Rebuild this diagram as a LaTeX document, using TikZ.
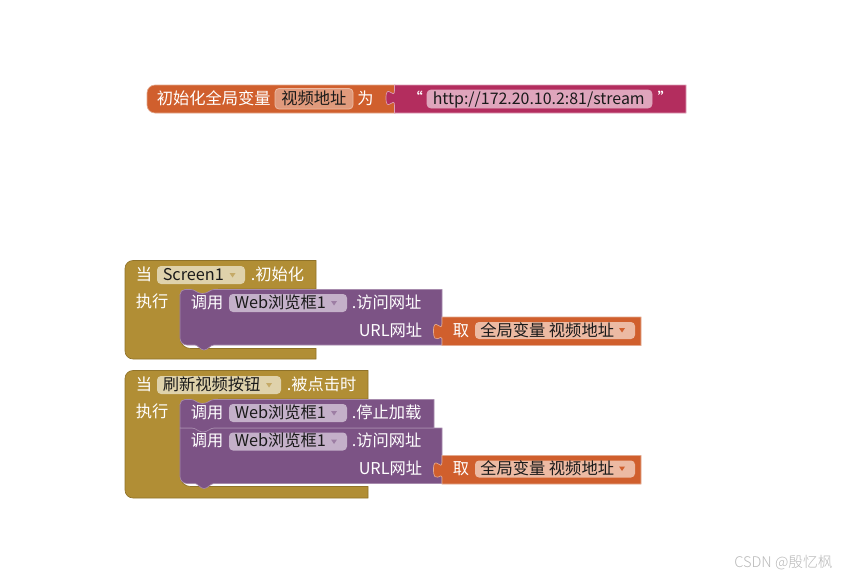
\documentclass[tikz,border=0pt]{standalone}
\usepackage{fontspec}
\setmainfont{Noto Sans CJK SC}
\newfontfamily\wmfont{Noto Sans CJK SC Light}
\definecolor{orA}{HTML}{D05F2D}\definecolor{orE}{HTML}{E3A98F}
\definecolor{piA}{HTML}{B32D5E}\definecolor{piE}{HTML}{DDA0B6}
\definecolor{puA}{HTML}{7C5385}\definecolor{puE}{HTML}{B9A3BE}
\definecolor{goA}{HTML}{B18E35}\definecolor{goE}{HTML}{8F7229}
\definecolor{orF}{HTML}{E09A7C}\definecolor{orG}{HTML}{ECBAA3}
\definecolor{piF}{HTML}{DFA5BC}\definecolor{puF}{HTML}{C4B0C9}
\definecolor{goF}{HTML}{DFD2AB}\definecolor{ink}{HTML}{1A1A1A}
\tikzset{x=0.75pt,y=-0.75pt,
  lab/.style={anchor=base west,inner sep=0pt,text=white,font=\fontsize{12.2}{14}\selectfont},
  val/.style={anchor=base west,inner sep=0pt,text=ink,font=\fontsize{12.2}{14}\selectfont},
  fld/.style={rounded corners=3pt,line width=0.6pt},
  orb/.style={fill=orA,draw=orE,line width=0.5pt},
  pib/.style={fill=piA,draw=piE,line width=0.5pt},
  pub/.style={fill=puA,draw=puE!70!puA,line width=0.5pt},
  gob/.style={fill=goA,draw=goE,line width=0.5pt},
  wm/.style={anchor=base west,inner sep=0pt,text=black!28,font=\wmfont\fontsize{11}{13}\selectfont}}
% statement block with notch on top and tab below: x0,x1,y0,y1,style
\newcommand{\stmt}[5]{%
  \path[#5] (#1+5,#3) -- (191,#3) .. controls (195,#3) and (197,#3+4) .. (202.5,#3+4) .. controls (208,#3+4) and (210,#3) .. (214,#3) -- (#2,#3) -- (#2,#4)
   -- (214,#4) .. controls (210,#4) and (208,#4+5) .. (204,#4+5) .. controls (200,#4+5) and (198,#4) .. (195,#4) -- (#1+7,#4)
   arc[start angle=90,end angle=180,radius=7] -- (#1,#3+5) arc[start angle=180,end angle=270,radius=5] -- cycle;}
% value block with puzzle tab on the left: y0
\newcommand{\valblk}[1]{%
  \path[orb] (442,#1) -- (641,#1) -- (641,#1+28.5) -- (442,#1+28.5) -- (442,#1+21.5)
   .. controls (442,#1+16.5) and (433.5,#1+29.5) .. (433.5,#1+14) .. controls (433.5,#1-1.5) and (442,#1+16.5) .. (442,#1+6.5) -- cycle;}
\newcommand{\ddn}[3]{\path[fill=#3] (#1-3,#2-2) -- (#1+3,#2-2) -- (#1,#2+2.5) -- cycle;}
\begin{document}
\begin{tikzpicture}
\useasboundingbox (0,0) rectangle (846,578);
% first row
\path[orb] (155,85) -- (395,85) -- (395,113) -- (155,113) arc[start angle=90,end angle=180,radius=8] -- (147,93) arc[start angle=180,end angle=270,radius=8] -- cycle;
\path[pib] (394.5,85) -- (686,85) -- (686,113) -- (394.5,113) -- (394.5,105.5)
  .. controls (394.5,95.5) and (386,113.5) .. (386,98) .. controls (386,82.5) and (394.5,100.5) .. (394.5,90.5) -- cycle;
\path[fld,fill=orF,draw=orG] (275,88.5) rectangle (353,109);
\path[fld,fill=piF,draw=piF] (427,90) rectangle (652,108);
\node[lab] (g1) at (156.5,104) {初始化全局变量};
\node[val] (g2) at (281,104) {视频地址};
\node[lab] (g3) at (357,104) {为};
\node[lab,font=\bfseries\fontsize{10}{12}\selectfont] (q1) at (409,102) {“};
\node[val,font=\fontsize{11.95}{14}\selectfont] (url) at (432.5,104) {http://172.20.10.2:81/stream};
\node[lab,font=\bfseries\fontsize{10}{12}\selectfont] (q2) at (657.5,102) {”};
% event 1
\path[gob] (133,260.5) -- (316,260.5) -- (316,289) -- (186,289) -- (180,295) -- (180,338) arc[start angle=180,end angle=90,radius=10.5] -- (316,348.5) -- (316,359) -- (133,359) arc[start angle=90,end angle=180,radius=8] -- (125,268.5) arc[start angle=180,end angle=270,radius=8] -- cycle;
\path[fill=goA] (186,287) rectangle (218,296);
\stmt{180}{442}{289.5}{345}{pub}
\path[fld,fill=goF] (157,266) rectangle (245,284);
\path[fld,fill=puF] (229,294) rectangle (347,312);
\ddn{232.5}{275}{goA!75!white}
\ddn{334}{303}{puA!75!white}
\node[lab] (a1) at (135.5,280) {当};
\node[val] (a2) at (162.5,280) {Screen1};
\node[lab] (a3) at (250.5,280) {.初始化};
\node[lab] (a4) at (135.5,307) {执行};
\node[lab] (a5) at (190.5,308) {调用};
\node[val] (a6) at (234.5,308) {Web浏览框1};
\node[lab] (a7) at (351.5,308) {.访问网址};
\node[lab] (a8) at (358.5,336) {URL网址};
\valblk{317}
\path[fld,fill=orG] (475,322) rectangle (635,339);
\ddn{622}{330}{orA}
\node[lab] (a9) at (452.5,336) {取};
\node[val] (a10) at (480,336) {全局变量 视频地址};
% event 2
\path[gob] (133,370.5) -- (368,370.5) -- (368,399) -- (186,399) -- (180,405) -- (180,476) arc[start angle=180,end angle=90,radius=10.5] -- (368,486.5) -- (368,498) -- (133,498) arc[start angle=90,end angle=180,radius=8] -- (125,378.5) arc[start angle=180,end angle=270,radius=8] -- cycle;
\path[fill=goA] (186,397) rectangle (218,406);
% second statement: square top left, joins the first one
\path[pub] (180,428) -- (442,428) -- (442,483.5) -- (214,483.5) .. controls (210,483.5) and (208,488.5) .. (204,488.5) .. controls (200,488.5) and (198,483.5) .. (195,483.5) -- (187,483.5) arc[start angle=90,end angle=180,radius=7] -- cycle;
% first statement, its tab lies on the second
\path[pub] (185,399.5) -- (191,399.5) .. controls (195,399.5) and (197,403.5) .. (202.5,403.5) .. controls (208,403.5) and (210,399.5) .. (214,399.5) -- (434,399.5) -- (434,428) -- (214,428) .. controls (210,428) and (208,432) .. (203,432) .. controls (198,432) and (196,428) .. (192,428) -- (180,428) -- (180,404.5) arc[start angle=180,end angle=270,radius=5] -- cycle;
\path[fld,fill=goF] (157,376) rectangle (281,394);
\path[fld,fill=puF] (229,404) rectangle (347,422);
\path[fld,fill=puF] (229,432.5) rectangle (347,450.5);
\ddn{269}{385}{goA!75!white}
\ddn{334}{413}{puA!75!white}
\ddn{334}{441.5}{puA!75!white}
\node[lab] (b1) at (135.5,390) {当};
\node[val] (b2) at (162.5,390) {刷新视频按钮};
\node[lab] (b3) at (286.5,390) {.被点击时};
\node[lab] (b4) at (135.5,417) {执行};
\node[lab] (b5) at (190.5,418) {调用};
\node[val] (b6) at (234.5,418) {Web浏览框1};
\node[lab] (b7) at (351.5,418) {.停止加载};
\node[lab] (b8) at (190.5,446.5) {调用};
\node[val] (b9) at (234.5,446.5) {Web浏览框1};
\node[lab] (b10) at (351.5,446.5) {.访问网址};
\node[lab] (b11) at (358.5,474) {URL网址};
\valblk{455.5}
\path[fld,fill=orG] (475,460.5) rectangle (635,477.5);
\ddn{622}{468.5}{orA}
\node[lab] (b12) at (452.5,474.5) {取};
\node[val] (b13) at (480,474.5) {全局变量 视频地址};
% watermark
\node[wm] (w) at (734,567) {CSDN @殷忆枫};
\end{tikzpicture}
\end{document}
